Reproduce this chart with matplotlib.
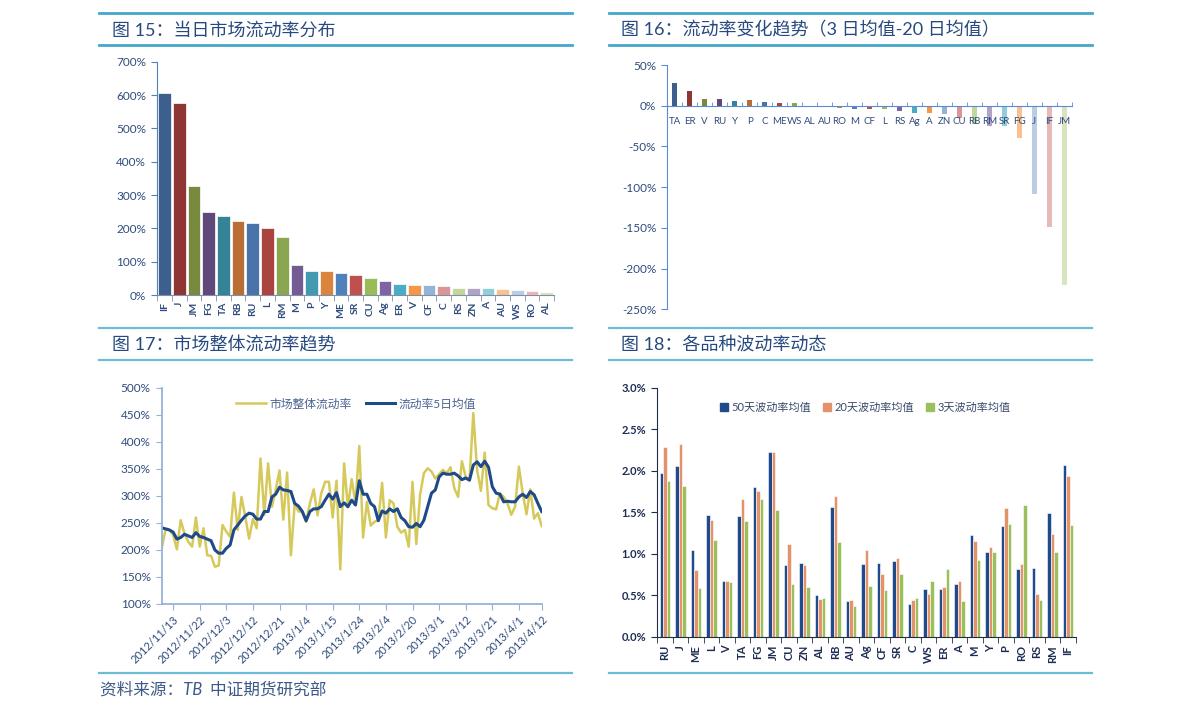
import matplotlib
matplotlib.use('Agg')
from matplotlib import pyplot as plt
from matplotlib.lines import Line2D
from matplotlib.patches import Patch
import numpy as np

plt.rcParams['font.family'] = ['Lato', 'Noto Sans CJK SC', 'DejaVu Sans']
plt.rcParams['axes.unicode_minus'] = False

W, H = 1191, 721

# Excel style colour cycle used by the two "vary colours" bar charts
palette = ['#3C5F8D', '#8F3533', '#778A3E', '#60497A', '#358396', '#B86E34',
           '#4A73AA', '#A94441', '#8AA651', '#735B94', '#419AB0', '#DB843D',
           '#4F81BD', '#C0504D', '#9BBB59', '#8064A2', '#4BACC6', '#F79646',
           '#95B3D7', '#D99694', '#C3D69B', '#B2A2C7', '#92CDDC', '#FAC08F',
           '#B9CDE5', '#E6B9B8', '#D7E4BD']

# fig 15: liquidity of the day
liq_names = ['IF', 'J', 'JM', 'FG', 'TA', 'RB', 'RU', 'L', 'RM', 'M', 'P', 'Y', 'ME', 'SR',
             'CU', 'Ag', 'ER', 'V', 'CF', 'C', 'RS', 'ZN', 'A', 'AU', 'WS', 'RO', 'AL']
liq_values = [606, 575, 328, 250, 236, 222, 215, 202, 175, 89, 73, 73, 66, 59,
              50, 42, 32, 29, 29, 26, 22, 22, 22, 18, 15, 12, 8]

# fig 16: change of liquidity (3d mean - 20d mean)
chg_names = ['TA', 'ER', 'V', 'RU', 'Y', 'P', 'C', 'ME', 'WS', 'AL', 'AU', 'RO', 'M', 'CF',
             'L', 'RS', 'Ag', 'A', 'ZN', 'CU', 'RB', 'RM', 'SR', 'FG', 'J', 'IF', 'JM']
chg_values = [28.5, 17.5, 7.8, 7.8, 6.2, 6.5, 4.5, 3.3, 3.3, -0.5, -0.4, -2.5, -3.5, -3.5,
              -3.5, -6.0, -9.0, -9.0, -10.5, -15.0, -22.0, -25.0, -24.5, -39.5, -109, -149, -220]

# fig 17: market liquidity trend
trend_dates = ['2012/11/13', '2012/11/22', '2012/12/3', '2012/12/12', '2012/12/21',
               '2013/1/4', '2013/1/15', '2013/1/24', '2013/2/4', '2013/2/20',
               '2013/3/1', '2013/3/12', '2013/3/21', '2013/4/1', '2013/4/12']
trend_total = [203, 237, 237, 228, 201, 255, 230, 215, 206, 260,
               206, 240, 190, 189, 169, 171, 246, 234, 224, 306,
               237, 298, 261, 221, 257, 240, 369, 265, 360, 280,
               311, 347, 256, 343, 190, 286, 271, 271, 252, 286,
               312, 264, 305, 326, 326, 260, 328, 164, 360, 279,
               331, 286, 392, 223, 289, 245, 252, 255, 324, 223,
               292, 286, 243, 232, 237, 206, 326, 211, 302, 342,
               351, 345, 332, 340, 348, 342, 353, 314, 298, 364,
               335, 329, 453, 348, 309, 380, 283, 277, 275, 305,
               298, 286, 265, 280, 354, 305, 266, 312, 258, 268, 244]
trend_ma5 = [241, 239, 237, 233, 220, 223, 229, 226, 223, 232,
             225, 223, 220, 217, 200, 194, 194, 203, 209, 237,
             246, 255, 263, 268, 266, 257, 257, 271, 271, 298,
             303, 316, 311, 310, 308, 286, 281, 271, 254, 271,
             276, 276, 280, 292, 303, 294, 306, 280, 287, 280,
             292, 283, 328, 303, 303, 286, 280, 254, 272, 268,
             276, 271, 276, 260, 254, 243, 242, 249, 243, 255,
             280, 305, 311, 335, 342, 340, 340, 342, 337, 330,
             333, 329, 357, 363, 354, 364, 353, 317, 305, 303,
             289, 290, 289, 289, 298, 303, 297, 308, 302, 286, 271]

# fig 18: volatility by product
vol_names = ['RU', 'J', 'ME', 'L', 'V', 'TA', 'FG', 'JM', 'CU', 'ZN', 'AL', 'RB', 'AU', 'Ag',
             'CF', 'SR', 'C', 'WS', 'ER', 'A', 'M', 'Y', 'P', 'RO', 'RS', 'RM', 'IF']
vol_50 = [1.97, 2.06, 1.04, 1.47, 0.67, 1.46, 1.80, 2.23, 0.86, 0.89, 0.50, 1.56, 0.43, 0.88,
          0.89, 0.91, 0.40, 0.57, 0.57, 0.63, 1.23, 1.02, 1.33, 0.81, 0.83, 1.49, 2.07]
vol_20 = [2.29, 2.32, 0.80, 1.41, 0.67, 1.66, 1.76, 2.23, 1.12, 0.86, 0.46, 1.69, 0.44, 1.04,
          0.76, 0.95, 0.44, 0.51, 0.60, 0.67, 1.15, 1.08, 1.55, 0.88, 0.52, 1.24, 1.94]
vol_3 = [1.88, 1.81, 0.59, 1.17, 0.66, 1.40, 1.66, 1.53, 0.64, 0.60, 0.47, 1.14, 0.37, 0.61,
         0.56, 0.76, 0.47, 0.67, 0.82, 0.43, 0.92, 1.02, 1.36, 1.59, 0.44, 1.02, 1.35]

title_color = '#27497F'
tick_color = '#2F4B7C'


def axes_px(fig, left, top, right, bottom):
    return fig.add_axes([left / W, 1 - bottom / H, (right - left) / W, (bottom - top) / H])


def hline(fig, y, x0, x1, color, lw):
    fig.add_artist(Line2D([x0 / W, x1 / W], [1 - y / H, 1 - y / H], color=color, lw=lw))


fig = plt.figure(figsize=(W / 100, H / 100), dpi=100)

# frame lines and titles
for x0, x1 in [(99, 572), (609, 1092)]:
    hline(fig, 13, x0, x1, '#45A7C9', 2.0)
    hline(fig, 45, x0, x1, '#45A7C9', 2.0)
    hline(fig, 328, x0, x1, '#6DBBD6', 1.6)
    hline(fig, 360, x0, x1, '#6DBBD6', 1.6)
    hline(fig, 673, x0, x1, '#6DBBD6', 1.6)

fig.text(112 / W, 1 - 30 / H, '图 15：当日市场流动率分布', fontsize=13, color=title_color, va='center')
fig.text(621 / W, 1 - 30 / H, '图 16：流动率变化趋势（3 日均值-20 日均值）', fontsize=13, color=title_color, va='center')
fig.text(112 / W, 1 - 345 / H, '图 17：市场整体流动率趋势', fontsize=13, color=title_color, va='center')
fig.text(621 / W, 1 - 345 / H, '图 18：各品种波动率动态', fontsize=13, color=title_color, va='center')
fig.text(100 / W, 1 - 690 / H, '资料来源：TB  中证期货研究部', fontsize=12, color='#3B5A86',
         va='center', style='italic')

# ---- fig 15 ----
ax1 = axes_px(fig, 157.3, 61.7, 554, 295)
x = np.arange(len(liq_names))
ax1.bar(x, liq_values, width=0.86, color=palette, edgecolor='white', linewidth=0.5)
ax1.set_xlim(-0.5, len(liq_names) - 0.5)
ax1.set_ylim(0, 700)
ax1.set_yticks(range(0, 701, 100), ['%d%%' % v for v in range(0, 701, 100)])
ax1.set_xticks(x, liq_names, rotation=90, fontweight='bold')
ax1.set_xticks(np.arange(-0.5, len(liq_names)), minor=True)
ax1.tick_params(axis='x', which='major', length=0, pad=5, colors=tick_color, labelsize=7.5)
ax1.tick_params(axis='x', which='minor', length=4, color='#7F8FA8')
ax1.tick_params(axis='y', length=4, color='#4F81BD', labelsize=8.5, labelcolor=tick_color, pad=4)
for s in ['top', 'right']:
    ax1.spines[s].set_visible(False)
ax1.spines['left'].set_color('#4F81BD')
ax1.spines['bottom'].set_color('#7F8FA8')
ax1.patch.set_alpha(0)

# ---- fig 16 ----
ax2 = axes_px(fig, 667.3, 65, 1071.7, 309.3)
x = np.arange(len(chg_names))
ax2.bar(x, chg_values, width=0.36, color=palette)
ax2.set_xlim(-0.5, len(chg_names) - 0.5)
ax2.set_ylim(-250, 50)
ax2.set_yticks(range(-250, 51, 50), ['%d%%' % v for v in range(-250, 51, 50)])
ax2.set_xticks(x, chg_names, fontweight='bold')
ax2.set_xticks(np.arange(-0.5, len(chg_names)), minor=True)
ax2.tick_params(axis='x', which='major', length=0, pad=8, colors=tick_color, labelsize=7)
ax2.tick_params(axis='x', which='minor', length=3, direction='in', color='#5B8BD0')
ax2.tick_params(axis='y', length=4, color='#5B8BD0', labelsize=8.5, labelcolor=tick_color, pad=4)
for s in ['top', 'right']:
    ax2.spines[s].set_visible(False)
ax2.spines['bottom'].set_position(('data', 0))
ax2.spines['left'].set_color('#5B8BD0')
ax2.spines['bottom'].set_color('#5B8BD0')
ax2.patch.set_alpha(0)

# ---- fig 17 ----
ax3 = axes_px(fig, 161.7, 387.7, 541.7, 604)
t = np.arange(len(trend_total))
ax3.plot(t, trend_total, color='#D6C95B', lw=1.8, label='市场整体流动率')
ax3.plot(t, trend_ma5, color='#1F4A8A', lw=2.2, label='流动率5日均值')
ax3.set_xlim(0, len(trend_total) - 1)
ax3.set_ylim(100, 500)
ax3.set_yticks(range(100, 501, 50), ['%d%%' % v for v in range(100, 501, 50)])
tick_pos = list(range(3, len(trend_total) - 6, 7)) + [len(trend_total) - 1]
ax3.set_xticks(tick_pos, trend_dates, rotation=45, ha='right', va='top', rotation_mode='anchor')
ax3.tick_params(axis='x', length=4, color='#95B3D7', labelcolor=tick_color, pad=3, labelsize=8)
ax3.tick_params(axis='y', length=4, color='#95B3D7', labelsize=8.5, labelcolor=tick_color, pad=4)
for s in ['top', 'right']:
    ax3.spines[s].set_visible(False)
ax3.spines['left'].set_color('#95B3D7')
ax3.spines['bottom'].set_color('#95B3D7')
ax3.spines['left'].set_linewidth(1.3)
ax3.spines['bottom'].set_linewidth(1.3)
ax3.legend(loc='center', bbox_to_anchor=(0.512, 0.925), ncol=2, frameon=False, fontsize=8.5,
           handlelength=2.5, handletextpad=0.3, columnspacing=1.2, labelcolor='#4A6390')
ax3.patch.set_alpha(0)

# ---- fig 18 ----
ax4 = axes_px(fig, 657.3, 387.7, 1075.7, 636.7)
x = np.arange(len(vol_names))
bw = 0.226
ax4.bar(x - bw, vol_50, width=bw, color='#1F4A8C', edgecolor='white', linewidth=0.4)
ax4.bar(x, vol_20, width=bw, color='#E3936B', edgecolor='white', linewidth=0.4)
ax4.bar(x + bw, vol_3, width=bw, color='#9BBF5A', edgecolor='white', linewidth=0.4)
ax4.set_xlim(-0.5, len(vol_names) - 0.5)
ax4.set_ylim(0, 3.0)
ax4.set_yticks(np.arange(0, 3.01, 0.5), ['%.1f%%' % v for v in np.arange(0, 3.01, 0.5)],
               fontweight='bold')
ax4.set_xticks(x, vol_names, rotation=90, fontweight='bold')
ax4.set_xticks(np.arange(-0.5, len(vol_names)), minor=True)
ax4.tick_params(axis='x', which='major', length=0, pad=6, colors='#1F2D55', labelsize=8)
ax4.tick_params(axis='x', which='minor', length=4, color='#1F2D45')
ax4.tick_params(axis='y', length=4, color='#1F2D45', labelsize=8, labelcolor='#1F2D55', pad=4)
for s in ['top', 'right']:
    ax4.spines[s].set_visible(False)
ax4.spines['left'].set_color('#1F2D45')
ax4.spines['bottom'].set_color('#1F2D45')
handles = [Patch(color='#1F4A8C'), Patch(color='#E3936B'), Patch(color='#9BBF5A')]
ax4.legend(handles, ['50天波动率均值', '20天波动率均值', '3天波动率均值'], loc='center',
           bbox_to_anchor=(0.497, 0.921), ncol=3, frameon=False, fontsize=8,
           handlelength=0.7, handleheight=0.7, handletextpad=0.3, columnspacing=1.1,
           labelcolor='#3A4A6A')
ax4.patch.set_alpha(0)

fig.savefig('out.png', dpi=100)
plt.close()
